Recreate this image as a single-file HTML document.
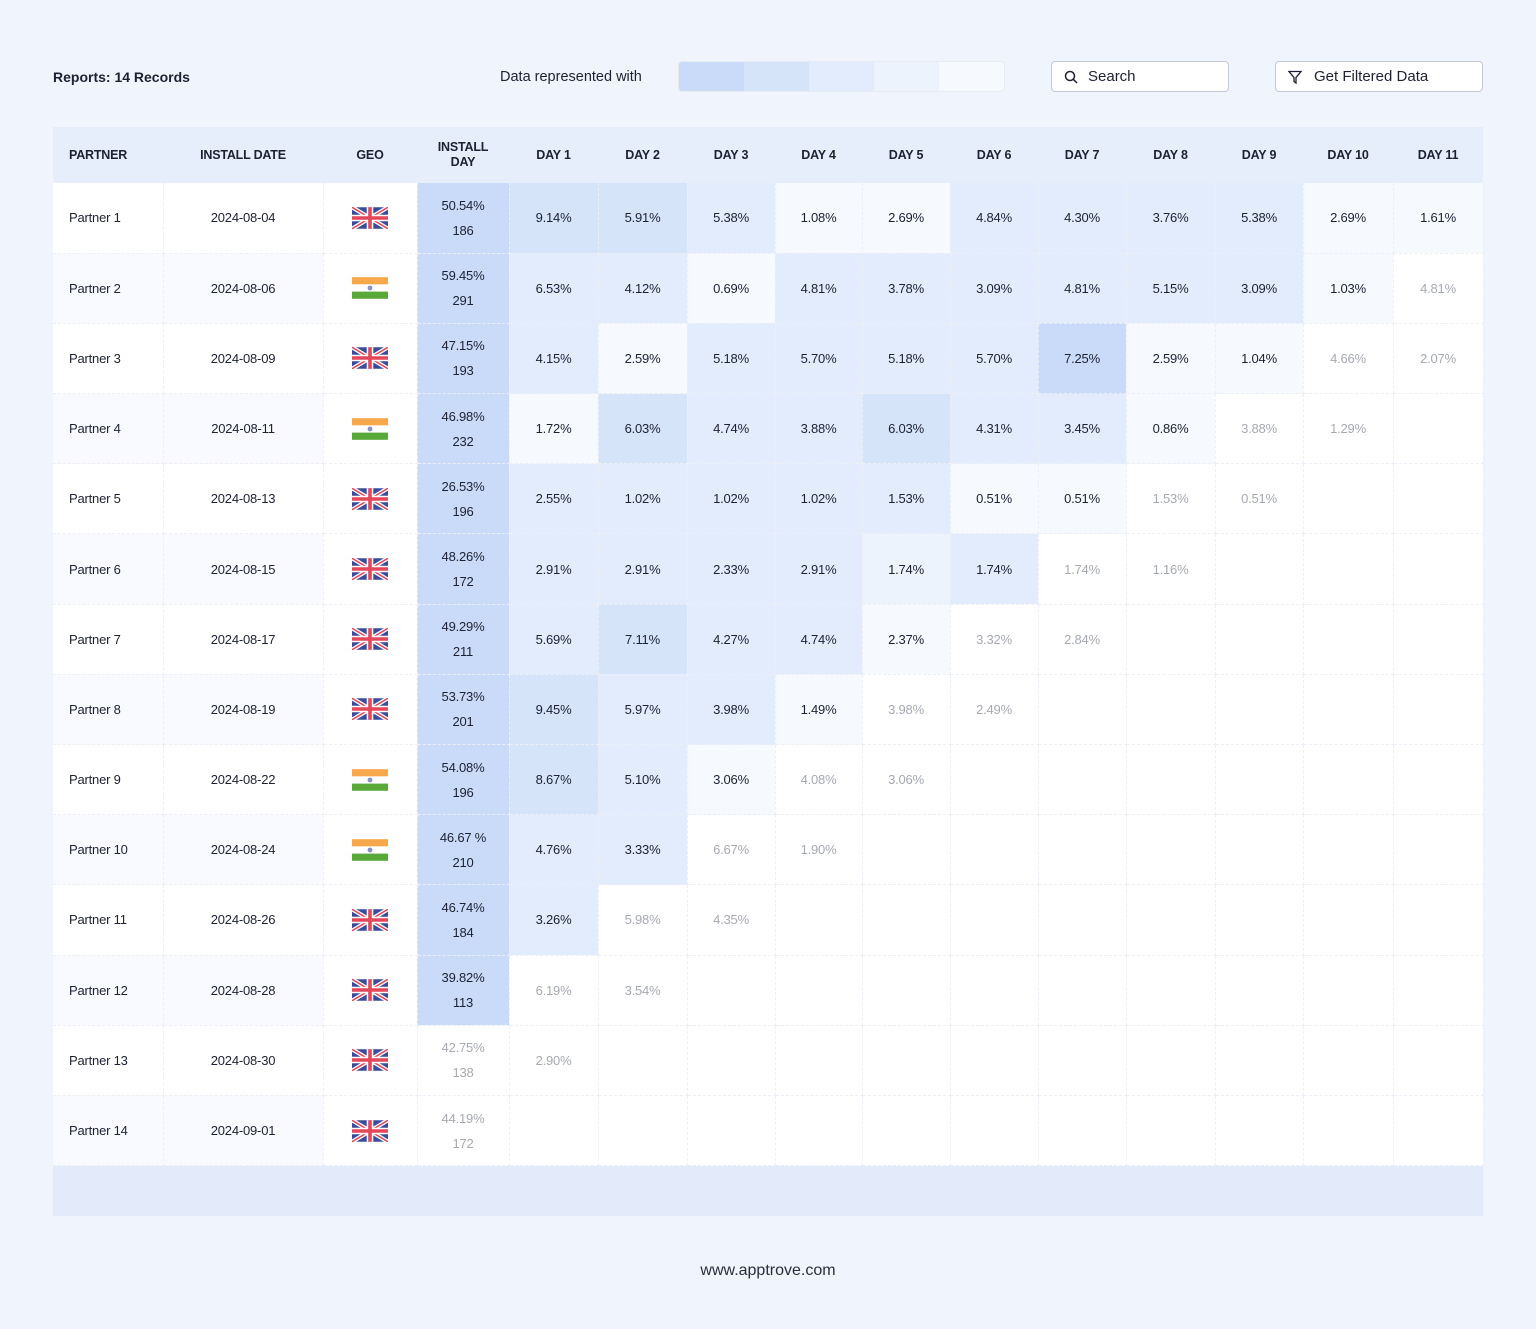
<!DOCTYPE html>
<html><head><meta charset="utf-8"><style>
*{margin:0;padding:0;box-sizing:border-box}
body{width:1536px;height:1329px;background:#f0f4fc;font-family:"Liberation Sans",sans-serif;color:#1d2133;position:relative;overflow:hidden}
.abs{position:absolute}
table{position:absolute;left:53px;top:127px;width:1430px;border-collapse:collapse;table-layout:fixed;font-size:13px;letter-spacing:-0.2px}
th{height:56px;background:#e6eefc;font-size:12.5px;font-weight:bold;color:#1d2133;text-align:center;line-height:15px}
td{height:70.2px;text-align:center;background:#fff;border-right:1px dashed #eceff5;border-bottom:1px dashed #eceff5;line-height:25px}
td svg{display:block;margin:0 auto}
td.p{text-align:left;padding-left:16px}
tr:nth-child(odd) td.p,tr:nth-child(odd) td.dt{background:#f8faff}
.a{background:#c9dbf8}.b{background:#d6e4fa}.c{background:#e2ecfc}.d{background:#edf3fd}.e{background:#f6f9fe}
.g{color:#a6a9b2}
.btn{position:absolute;height:31px;border:1px solid #c3c8d2;border-radius:4px;background:#fff;font-size:15px;line-height:29px}
</style></head><body>
<div class="abs" style="left:53px;top:69px;font-size:14px;font-weight:bold">Reports: 14 Records</div>
<div class="abs" style="left:500px;top:69px;font-size:14.5px">Data represented with</div>
<div class="abs" style="left:678px;top:61px;width:327px;height:31px;display:flex;border-radius:4px;overflow:hidden;border:1px solid #e6ebf4">
<div style="flex:1;background:#c9dbf8"></div><div style="flex:1;background:#d6e4fa"></div><div style="flex:1;background:#e2ecfc"></div><div style="flex:1;background:#edf3fd"></div><div style="flex:1;background:#f6f9fe"></div></div>
<div class="btn" style="left:1051px;top:61px;width:178px;padding-left:36px"><svg class="abs" style="left:12px;top:8px" width="14" height="14" viewBox="0 0 14 14"><circle cx="6" cy="6" r="4.5" fill="none" stroke="#1d2133" stroke-width="1.5"/><line x1="9.3" y1="9.3" x2="13" y2="13" stroke="#1d2133" stroke-width="1.5"/></svg>Search</div>
<div class="btn" style="left:1275px;top:61px;width:208px;padding-left:38px"><svg class="abs" style="left:12px;top:8px" width="14" height="14" viewBox="0 0 14 14"><path d="M1 1.5H13L8 7.5V13L6 11.5V7.5Z" fill="none" stroke="#1d2133" stroke-width="1.3"/></svg>Get Filtered Data</div>

<svg width="0" height="0" style="position:absolute"><defs>
<symbol id="uk" viewBox="0 0 60 36"><rect width="60" height="36" rx="5" fill="#3b4a9a"/><path d="M0,0 60,36M60,0 0,36" stroke="#fff" stroke-width="7"/><path d="M0,0 60,36M60,0 0,36" stroke="#e2475a" stroke-width="2.5"/><path d="M30,0V36M0,18H60" stroke="#fff" stroke-width="11"/><path d="M30,0V36M0,18H60" stroke="#e2475a" stroke-width="6"/></symbol>
<symbol id="in" viewBox="0 0 60 36"><rect width="60" height="12" fill="#f7a84a"/><rect y="12" width="60" height="12" fill="#fff"/><rect y="24" width="60" height="12" fill="#58a83a"/><circle cx="30" cy="18" r="4" fill="#8a8fc4"/></symbol>
</defs></svg>

<table>
<colgroup><col style="width:110px"><col style="width:160px"><col style="width:94px"><col style="width:92px"><col style="width:89px"><col style="width:89px"><col style="width:88px"><col style="width:87px"><col style="width:88px"><col style="width:88px"><col style="width:88px"><col style="width:89px"><col style="width:88px"><col style="width:90px"><col style="width:90px"></colgroup>
<tr><th style="text-align:left;padding-left:16px">PARTNER</th><th>INSTALL DATE</th><th>GEO</th><th>INSTALL<br>DAY</th><th>DAY 1</th><th>DAY 2</th><th>DAY 3</th><th>DAY 4</th><th>DAY 5</th><th>DAY 6</th><th>DAY 7</th><th>DAY 8</th><th>DAY 9</th><th>DAY 10</th><th>DAY 11</th></tr>
<tr><td class="p">Partner 1</td><td class="dt">2024-08-04</td><td><svg width="36" height="22"><use href="#uk"/></svg></td><td class="a">50.54%<br>186</td><td class="b">9.14%</td><td class="b">5.91%</td><td class="c">5.38%</td><td class="e">1.08%</td><td class="e">2.69%</td><td class="c">4.84%</td><td class="c">4.30%</td><td class="c">3.76%</td><td class="c">5.38%</td><td class="e">2.69%</td><td class="e">1.61%</td></tr>
<tr><td class="p">Partner 2</td><td class="dt">2024-08-06</td><td><svg width="36" height="22"><use href="#in"/></svg></td><td class="a">59.45%<br>291</td><td class="c">6.53%</td><td class="c">4.12%</td><td class="e">0.69%</td><td class="c">4.81%</td><td class="c">3.78%</td><td class="c">3.09%</td><td class="c">4.81%</td><td class="c">5.15%</td><td class="c">3.09%</td><td class="e">1.03%</td><td class="g">4.81%</td></tr>
<tr><td class="p">Partner 3</td><td class="dt">2024-08-09</td><td><svg width="36" height="22"><use href="#uk"/></svg></td><td class="a">47.15%<br>193</td><td class="c">4.15%</td><td class="e">2.59%</td><td class="c">5.18%</td><td class="c">5.70%</td><td class="c">5.18%</td><td class="c">5.70%</td><td class="a">7.25%</td><td class="e">2.59%</td><td class="e">1.04%</td><td class="g">4.66%</td><td class="g">2.07%</td></tr>
<tr><td class="p">Partner 4</td><td class="dt">2024-08-11</td><td><svg width="36" height="22"><use href="#in"/></svg></td><td class="a">46.98%<br>232</td><td class="e">1.72%</td><td class="b">6.03%</td><td class="c">4.74%</td><td class="c">3.88%</td><td class="b">6.03%</td><td class="c">4.31%</td><td class="c">3.45%</td><td class="e">0.86%</td><td class="g">3.88%</td><td class="g">1.29%</td><td></td></tr>
<tr><td class="p">Partner 5</td><td class="dt">2024-08-13</td><td><svg width="36" height="22"><use href="#uk"/></svg></td><td class="a">26.53%<br>196</td><td class="c">2.55%</td><td class="c">1.02%</td><td class="c">1.02%</td><td class="c">1.02%</td><td class="c">1.53%</td><td class="e">0.51%</td><td class="e">0.51%</td><td class="g">1.53%</td><td class="g">0.51%</td><td></td><td></td></tr>
<tr><td class="p">Partner 6</td><td class="dt">2024-08-15</td><td><svg width="36" height="22"><use href="#uk"/></svg></td><td class="a">48.26%<br>172</td><td class="c">2.91%</td><td class="c">2.91%</td><td class="c">2.33%</td><td class="c">2.91%</td><td class="d">1.74%</td><td class="c">1.74%</td><td class="g">1.74%</td><td class="g">1.16%</td><td></td><td></td><td></td></tr>
<tr><td class="p">Partner 7</td><td class="dt">2024-08-17</td><td><svg width="36" height="22"><use href="#uk"/></svg></td><td class="a">49.29%<br>211</td><td class="c">5.69%</td><td class="b">7.11%</td><td class="c">4.27%</td><td class="c">4.74%</td><td class="e">2.37%</td><td class="g">3.32%</td><td class="g">2.84%</td><td></td><td></td><td></td><td></td></tr>
<tr><td class="p">Partner 8</td><td class="dt">2024-08-19</td><td><svg width="36" height="22"><use href="#uk"/></svg></td><td class="a">53.73%<br>201</td><td class="b">9.45%</td><td class="c">5.97%</td><td class="c">3.98%</td><td class="e">1.49%</td><td class="g">3.98%</td><td class="g">2.49%</td><td></td><td></td><td></td><td></td><td></td></tr>
<tr><td class="p">Partner 9</td><td class="dt">2024-08-22</td><td><svg width="36" height="22"><use href="#in"/></svg></td><td class="a">54.08%<br>196</td><td class="b">8.67%</td><td class="c">5.10%</td><td class="e">3.06%</td><td class="g">4.08%</td><td class="g">3.06%</td><td></td><td></td><td></td><td></td><td></td><td></td></tr>
<tr><td class="p">Partner 10</td><td class="dt">2024-08-24</td><td><svg width="36" height="22"><use href="#in"/></svg></td><td class="a">46.67 %<br>210</td><td class="c">4.76%</td><td class="c">3.33%</td><td class="g">6.67%</td><td class="g">1.90%</td><td></td><td></td><td></td><td></td><td></td><td></td><td></td></tr>
<tr><td class="p">Partner 11</td><td class="dt">2024-08-26</td><td><svg width="36" height="22"><use href="#uk"/></svg></td><td class="a">46.74%<br>184</td><td class="c">3.26%</td><td class="g">5.98%</td><td class="g">4.35%</td><td></td><td></td><td></td><td></td><td></td><td></td><td></td><td></td></tr>
<tr><td class="p">Partner 12</td><td class="dt">2024-08-28</td><td><svg width="36" height="22"><use href="#uk"/></svg></td><td class="a">39.82%<br>113</td><td class="g">6.19%</td><td class="g">3.54%</td><td></td><td></td><td></td><td></td><td></td><td></td><td></td><td></td><td></td></tr>
<tr><td class="p">Partner 13</td><td class="dt">2024-08-30</td><td><svg width="36" height="22"><use href="#uk"/></svg></td><td class="g">42.75%<br>138</td><td class="g">2.90%</td><td></td><td></td><td></td><td></td><td></td><td></td><td></td><td></td><td></td><td></td></tr>
<tr><td class="p">Partner 14</td><td class="dt">2024-09-01</td><td><svg width="36" height="22"><use href="#uk"/></svg></td><td class="g">44.19%<br>172</td><td></td><td></td><td></td><td></td><td></td><td></td><td></td><td></td><td></td><td></td><td></td></tr>
</table>
<div class="abs" style="left:53px;top:1166px;width:1430px;height:50px;background:#e3ebfb"></div>
<div class="abs" style="left:0;top:1262px;width:1536px;text-align:center;font-size:16px;color:#2a2e3d">www.apptrove.com</div>
</body></html>
